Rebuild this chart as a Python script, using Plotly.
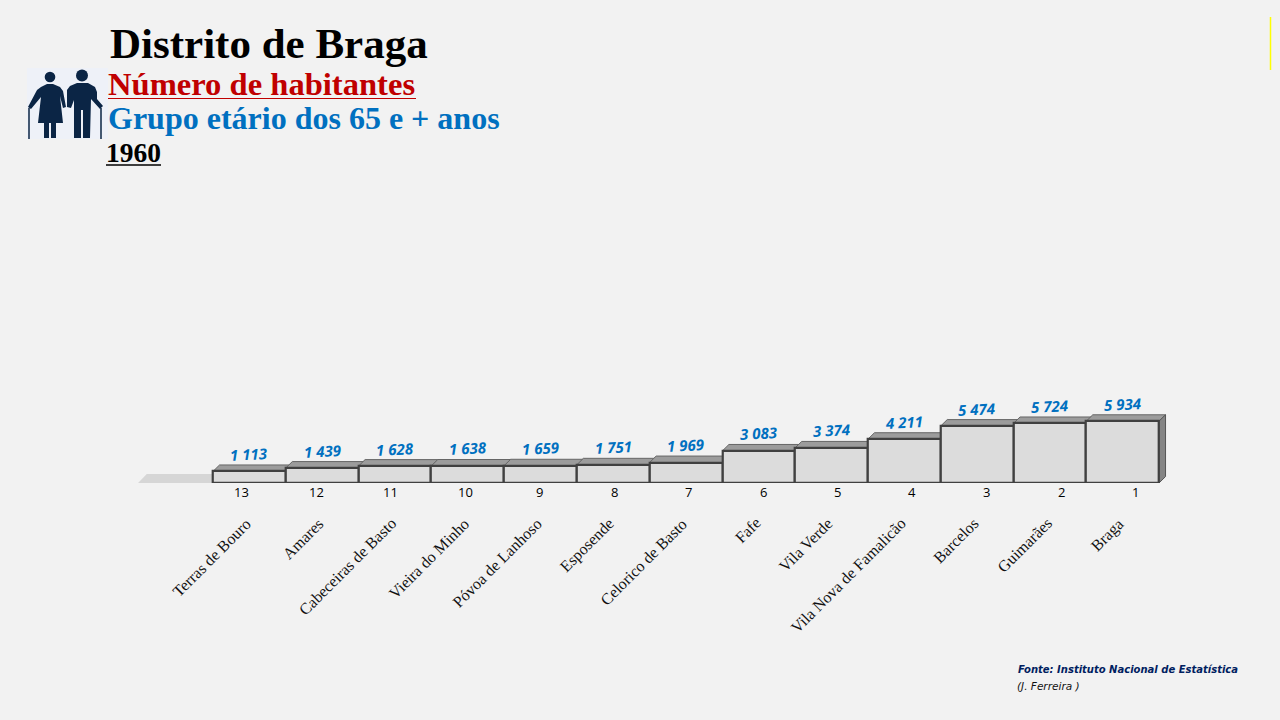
import plotly.graph_objects as go

# Population aged 65+ by municipality, Braga district, 1960 (ascending order)
municipios = ["Terras de Bouro", "Amares", "Cabeceiras de Basto", "Vieira do Minho",
              "Póvoa de Lanhoso", "Esposende", "Celorico de Basto", "Fafe", "Vila Verde",
              "Vila Nova de Famalicão", "Barcelos", "Guimarães", "Braga"]
habitantes = [1113, 1439, 1628, 1638, 1659, 1751, 1969, 3083, 3374, 4211, 5474, 5724, 5934]
posicao = [13, 12, 11, 10, 9, 8, 7, 6, 5, 4, 3, 2, 1]

W, H = 1280, 720
BG = "#f2f2f2"
EDGE = "#404040"
DX, DY = 0.09, 620      # extrusion of the bars, in axis units
YMAX = 27000
XR = [-2, 13.5]

def px(x):
    return x / W

def py(y):
    return 1 - y / H

def path(points):
    return "M" + " L".join(f"{px(x):.5f},{py(y):.5f}" for x, y in points) + " Z"

def circle(cx, cy, r):
    return dict(type="circle", xref="paper", yref="paper",
                x0=px(cx - r), x1=px(cx + r), y0=py(cy + r), y1=py(cy - r),
                fillcolor="#0b2545", line_width=0, layer="above")

def hline(x0, x1, y, color, width):
    return dict(type="line", xref="paper", yref="paper", x0=px(x0), x1=px(x1),
                y0=py(y), y1=py(y), line=dict(color=color, width=width))

fig = go.Figure()

idx = list(range(len(habitantes)))

# Floor shadow running off to the left of the first bar
fig.add_trace(go.Scatter(x=[-1.53, -1.41, -0.5, -0.5, -1.53], y=[0, 860, 860, 0, 0],
                         mode="lines", fill="toself", fillcolor="#d6d6d6",
                         line=dict(width=0), hoverinfo="skip", showlegend=False))

# Top faces, left to right so that taller neighbours cover shorter ones
for i, v in zip(idx, habitantes):
    x0, x1 = i - 0.5, i + 0.5
    fig.add_trace(go.Scatter(x=[x0, x0 + DX, x1 + DX, x1, x0],
                             y=[v, v + DY, v + DY, v, v],
                             mode="lines", fill="toself", fillcolor="#9c9c9c",
                             line=dict(color="#666666", width=1),
                             hoverinfo="skip", showlegend=False))

# Right side of the last bar
last_i, last_v = idx[-1], habitantes[-1]
fig.add_trace(go.Scatter(x=[last_i + 0.5, last_i + 0.5 + DX, last_i + 0.5 + DX, last_i + 0.5, last_i + 0.5],
                         y=[0, DY, last_v + DY, last_v, 0],
                         mode="lines", fill="toself", fillcolor="#858585",
                         line=dict(color="#555555", width=1),
                         hoverinfo="skip", showlegend=False))

# Front faces sit on an overlaying subplot, above the extrusion
fig.add_trace(go.Bar(x=idx, y=habitantes, width=1, xaxis="x2", yaxis="y2",
                     marker=dict(color="#dcdcdc", line=dict(color=EDGE, width=2.2)),
                     hoverinfo="skip", showlegend=False))

annotations = []
for i, v, nome, pos in zip(idx, habitantes, municipios, posicao):
    annotations.append(dict(x=i, y=v, xref="x", yref="y", yshift=17.5,
                            text=f"<b><i>{v:,}</i></b>".replace(",", " "),
                            showarrow=False, textangle=-3,
                            font=dict(family="Open Sans", size=15, color="#0070c0")))
    annotations.append(dict(x=i, y=0, xref="x", yref="y", yshift=-9, xshift=-7.5 + i * 1.71,
                            text=str(pos), showarrow=False,
                            font=dict(family="Open Sans", size=13, color="#000000")))
    annotations.append(dict(x=i, y=0, xref="x", yref="y", yshift=-29, xshift=7.5,
                            text=nome, showarrow=False, textangle=-45,
                            xanchor="right", yanchor="top",
                            font=dict(family="Liberation Serif", size=16, color="#111111")))

def head(x, y, text, size, color, extra=None):
    return dict(x=px(x), y=py(y), xref="paper", yref="paper", text=text, showarrow=False,
                xanchor="left", yanchor="middle",
                font=dict(family=extra or "Liberation Serif", size=size, color=color))

annotations += [
    head(108, 43, "<b>Distrito de Braga</b>", 43, "#000000"),
    head(105.5, 84, "<b>Número de habitantes</b>", 32.6, "#c00000"),
    head(105.5, 118, "<b>Grupo etário dos 65 e + anos</b>", 32, "#0070c0"),
    head(104, 152, "<b>1960</b>", 27.5, "#000000"),
    head(1016, 669.5, "<b><i>Fonte: Instituto Nacional de Estatística</i></b>", 10, "#002060", "DejaVu Sans"),
    head(1015, 686, "<i>(J. Ferreira )</i>", 10.5, "#111111", "DejaVu Sans"),
]

# Pictogram of an elderly couple with walking sticks
woman = [(47, 84), (53, 84), (60, 87), (63, 91), (66, 107), (63, 108), (60, 96), (63, 123),
         (56, 123), (56, 138), (51, 138), (51, 123), (49, 123), (49, 138), (44, 138), (44, 123),
         (38, 123), (41, 97), (31, 109), (28, 107), (37, 90), (41, 87)]
man = [(77, 83), (88, 83), (95, 87), (97, 92), (97, 99), (103, 106), (100, 109), (91, 99),
       (90, 138), (83, 138), (83, 110), (81, 110), (81, 138), (74, 138), (74, 100), (71, 108),
       (67, 107), (67, 90), (70, 86)]

shapes = [
    dict(type="rect", xref="paper", yref="paper", x0=px(27), x1=px(108), y0=py(139), y1=py(68),
         fillcolor="#eef1f8", line_width=0, layer="below"),
    dict(type="path", xref="paper", yref="paper", path=path(woman), fillcolor="#0b2545", line_width=0),
    dict(type="path", xref="paper", yref="paper", path=path(man), fillcolor="#0b2545", line_width=0),
    circle(50, 77, 5.3),
    circle(82, 75.5, 6),
    dict(type="line", xref="paper", yref="paper", x0=px(29), x1=px(29), y0=py(139), y1=py(108),
         line=dict(color="#0b2545", width=1.5)),
    dict(type="line", xref="paper", yref="paper", x0=px(101), x1=px(101), y0=py(139), y1=py(108),
         line=dict(color="#0b2545", width=1.5)),
    hline(108, 416, 98.5, "#c00000", 1.2),
    hline(106, 161, 165, "#000000", 1.5),
    dict(type="line", xref="paper", yref="paper", x0=px(1270.5), x1=px(1270.5), y0=py(70), y1=py(17),
         line=dict(color="#ffff00", width=1.5)),
]

unit = (1159 - 213) / 13
dom_x = [(213 - 1.5 * unit) / W, (1159 + unit) / W]
dom_y = [py(483), py(202)]
xaxis = dict(range=XR, domain=dom_x, visible=False, fixedrange=True)
yaxis = dict(range=[0, YMAX], domain=dom_y, visible=False, fixedrange=True)

fig.update_layout(
    width=W, height=H, autosize=False,
    margin=dict(l=0, r=0, t=0, b=0),
    paper_bgcolor=BG, plot_bgcolor="rgba(0,0,0,0)",
    showlegend=False, bargap=0,
    xaxis={**xaxis, "anchor": "y"},
    yaxis={**yaxis, "anchor": "x"},
    xaxis2={**xaxis, "anchor": "y2", "overlaying": "x"},
    yaxis2={**yaxis, "anchor": "x2", "overlaying": "y"},
    annotations=annotations,
    shapes=shapes,
)

fig.write_html("out.html", config={"displayModeBar": False})
